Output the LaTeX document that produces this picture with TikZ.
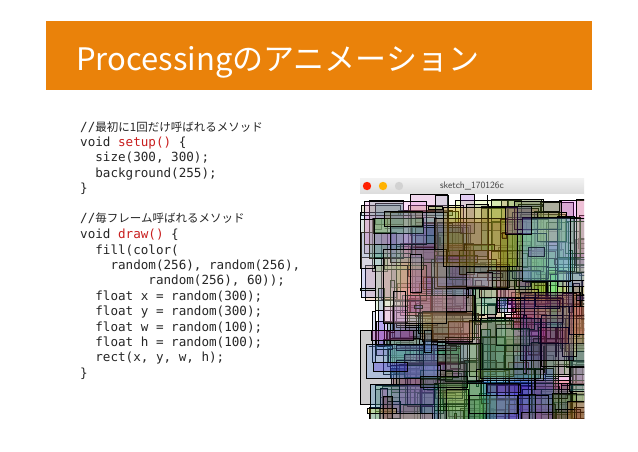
\documentclass[tikz,border=0pt]{standalone}
\usepackage{fontspec}
\setmainfont{Noto Sans CJK JP}
\setmonofont{DejaVu Sans Mono}
\newfontfamily\cjk{Noto Sans CJK JP}
\newfontfamily\cjkl{Noto Sans CJK JP Light}
\definecolor{orbar}{RGB}{234,130,10}
\definecolor{kw}{RGB}{200,30,30}
\tikzset{code/.style={anchor=base west,inner sep=0pt,text=black!85,font=\ttfamily\fontsize{12.6}{13}\selectfont}}
\begin{document}
\begin{tikzpicture}[x=1pt,y=-1pt]
\useasboundingbox (0,0) rectangle (638,451);
\fill[white] (0,0) rectangle (638,451);
\node[fill=orbar,minimum width=546pt,minimum height=69pt,anchor=north west,inner sep=0pt] (bar) at (46,21) {};
\node[anchor=base west,inner sep=0pt,text=white,font=\cjk\fontsize{31}{31}\selectfont] (title) at (76,70) {Processingのアニメーション};
\node[code] (l1) at (80,131) {//{\cjk\fontsize{11.5}{12}\selectfont 最初に1回だけ呼ばれるメソッド}};
\node[code] (l2) at (80,146) {void \textcolor{kw}{setup()} \{};
\node[code] (l3) at (80,161.5) {\ \ size(300, 300);};
\node[code] (l4) at (80,177) {\ \ background(255);};
\node[code] (l5) at (80,192) {\}};
\node[code] (l6) at (80,222) {//{\cjk\fontsize{11.5}{12}\selectfont 毎フレーム呼ばれるメソッド}};
\node[code] (l7) at (80,238) {void \textcolor{kw}{draw()} \{};
\node[code] (l8) at (80,254) {\ \ fill(color(};
\node[code] (l9) at (80,269) {\ \ \ \ random(256), random(256),};
\node[code] (l10) at (80,284) {\ \ \ \ \ \ \ \ \ random(256), 60));};
\node[code] (l11) at (80,300) {\ \ float x = random(300);};
\node[code] (l12) at (80,315) {\ \ float y = random(300);};
\node[code] (l13) at (80,331) {\ \ float w = random(100);};
\node[code] (l14) at (80,346) {\ \ float h = random(100);};
\node[code] (l15) at (80,361) {\ \ rect(x, y, w, h);};
\node[code] (l16) at (80,377) {\}};
% window
\shade[top color=gray!10,bottom color=gray!28] (360,178) rectangle (584,194);
\node[font=\sffamily\fontsize{9.5}{9.5}\selectfont,text=black!75] (wt) at (472,186) {sketch\_170126c};
\fill[red!75!orange] (367,186) circle (4.2);
\fill[orange!60!yellow] (383,186) circle (4.2);
\fill[gray!35] (399,186) circle (4.2);
\fill[white] (360,194) rectangle (584,418);
\begin{scope}
\clip (360,194) rectangle (584,418);
\pgfmathsetseed{170126}
\foreach \i in {1,...,330}{
  \pgfmathsetmacro{\rx}{360+0.747*random(0,299)}
  \pgfmathsetmacro{\ry}{194+0.747*random(0,299)}
  \pgfmathsetmacro{\rw}{0.747*random(0,99)}
  \pgfmathsetmacro{\rh}{0.747*random(0,99)}
  \pgfmathsetmacro{\cr}{random(0,255)}
  \pgfmathsetmacro{\cg}{random(0,255)}
  \pgfmathsetmacro{\cb}{random(0,255)}
  \definecolor{rc}{RGB}{\cr,\cg,\cb}
  \filldraw[fill=rc,fill opacity=0.24,draw=black,line width=0.7pt] (\rx,\ry) rectangle ++(\rw,\rh);
}
\end{scope}
\end{tikzpicture}
\end{document}
